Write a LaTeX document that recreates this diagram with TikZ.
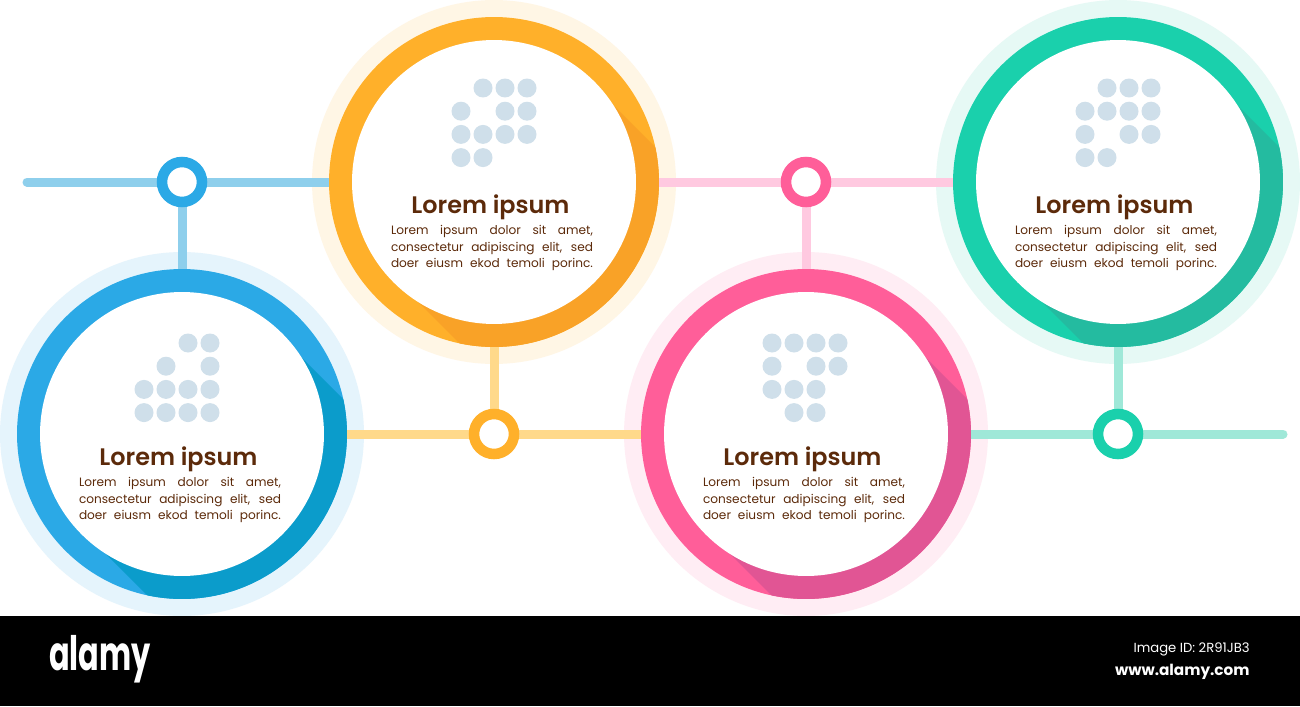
\documentclass[tikz,border=0pt]{standalone}
\usepackage{fontspec}
\setmainfont{Poppins}
\newfontfamily\headfont{Poppins SemiBold}
\newlength{\bodywd}
\setlength{\bodywd}{4.04cm}
\definecolor{bluemain}{HTML}{2BA9E6}
\definecolor{bluedark}{HTML}{0B9CCB}
\definecolor{bluehalo}{HTML}{E5F4FC}
\definecolor{bluelink}{HTML}{8ECFEC}
\definecolor{ambermain}{HTML}{FFB02A}
\definecolor{amberdark}{HTML}{F9A227}
\definecolor{amberhalo}{HTML}{FFF6E5}
\definecolor{amberlink}{HTML}{FFD98A}
\definecolor{rosemain}{HTML}{FF5E99}
\definecolor{rosedark}{HTML}{E15594}
\definecolor{rosehalo}{HTML}{FFEDF4}
\definecolor{roselink}{HTML}{FFC9E0}
\definecolor{tealmain}{HTML}{1AD0AC}
\definecolor{tealdark}{HTML}{24BBA0}
\definecolor{tealhalo}{HTML}{E6F9F5}
\definecolor{teallink}{HTML}{9FE8D8}
\definecolor{dotgrey}{HTML}{CFDFEA}
\definecolor{loremtext}{HTML}{5C2A0A}
\pgfdeclarelayer{halolayer}
\pgfdeclarelayer{linklayer}
\pgfsetlayers{halolayer,linklayer,main}
\tikzset{%
  disc/.style     = {shape=circle, inner sep=0pt, outer sep=0pt},%
  halonode/.style = {disc, minimum size=7.28cm},%
  ringnode/.style = {disc, minimum size=6.6cm},%
  holenode/.style = {disc, minimum size=5.68cm, fill=white},%
  stopnode/.style = {disc, minimum size=.8cm, line width=.21cm, fill=white},%
  link/.style     = {line width=.18cm, line cap=round},%
  title/.style    = {font=\fontsize{13.6}{16}\headfont, text=loremtext},%
  body/.style     = {font=\fontsize{6.9}{9.64}\selectfont, text=loremtext, align=left, inner sep=0pt}%
}
% name, centre x, centre y, first dot x, first dot y, dots as column/row
\newcommand{\stepdisc}[6]{%
  \begin{pgfonlayer}{halolayer}%
    \node[halonode, fill=#1halo] (#1halo) at (#2,#3) {};%
  \end{pgfonlayer}%
  \node[ringnode, fill=#1main] (#1) at (#2,#3) {};%
  \begin{scope}%
    \clip (#1.center) circle [radius=3.3cm];%
    \fill[#1dark] (#2+98,#3-98) -- (#2+298,#3+102) -- (#2+102,#3+298) -- (#2-98,#3+98) -- cycle;%
  \end{scope}%
  \node[holenode] (#1hole) at (#2,#3) {};%
  \foreach \col/\row in {#6}{%
    \fill[dotgrey] (#4+22*\col,#5+23.2*\row) circle [radius=.19cm];}%
  \node[title] (#1title) at (#2-3.5,#3+25) {Lorem ipsum};%
  \node[body] (#1body) at (#2-2,#3+66) {\makebox[\bodywd][s]{Lorem ipsum dolor sit amet,}\\
    \makebox[\bodywd][s]{consectetur adipiscing elit, sed}\\
    \makebox[\bodywd][s]{doer eiusm ekod temoli porinc.}};%
}
\begin{document}
\begin{tikzpicture}[x=.02cm,y=-.02cm]
	\useasboundingbox (0,0) rectangle (1300,706);
	\begin{pgfonlayer}{halolayer}
		\fill[white] (0,0) rectangle (1300,706);
	\end{pgfonlayer}
	\stepdisc{blue}{182}{434}{144}{343}{2/0,3/0,1/1,3/1,0/2,1/2,2/2,3/2,0/3,1/3,2/3,3/3}
	\stepdisc{amber}{494}{182}{461}{88}{1/0,2/0,3/0,0/1,2/1,3/1,0/2,1/2,2/2,3/2,0/3,1/3}
	\stepdisc{rose}{806}{434}{772}{343}{0/0,1/0,2/0,3/0,0/1,2/1,3/1,0/2,1/2,2/2,1/3,2/3}
	\stepdisc{teal}{1118}{182}{1085}{88}{1/0,2/0,3/0,0/1,1/1,2/1,3/1,0/2,2/2,3/2,0/3,1/3}
	\node[stopnode,draw=bluemain] (bluestop) at (182,182) {};
	\node[stopnode,draw=ambermain] (amberstop) at (494,434) {};
	\node[stopnode,draw=rosemain] (rosestop) at (806,182) {};
	\node[stopnode,draw=tealmain] (tealstop) at (1118,434) {};
	\coordinate (linestart) at (27,182);
	\coordinate (lineend) at (1283,434);
	\begin{pgfonlayer}{linklayer}
		\draw[link,bluelink] (linestart) -- (bluestop);
		\draw[link,bluelink] (bluestop) -- (amber);
		\draw[link,bluelink] (bluestop) -- (blue);
		\draw[link,amberlink] (blue) -- (amberstop);
		\draw[link,amberlink] (amberstop) -- (rose);
		\draw[link,amberlink] (amberstop) -- (amber);
		\draw[link,roselink] (amber) -- (rosestop);
		\draw[link,roselink] (rosestop) -- (teal);
		\draw[link,roselink] (rosestop) -- (rose);
		\draw[link,teallink] (rose) -- (tealstop);
		\draw[link,teallink] (tealstop) -- (lineend);
		\draw[link,teallink] (tealstop) -- (teal);
	\end{pgfonlayer}
	% bottom strip
	\fill[black] (0,616) rectangle (1300,706);
	\node[text=white,font=\fontsize{27}{30}\selectfont\bfseries,xscale=.64] (brand) at (100,659) {alamy};
	\node[text=white,font=\fontsize{7.5}{9}\selectfont,anchor=east,inner sep=0pt] (imageid) at (1250,649) {Image ID: 2R91JB3};
	\node[text=white,font=\fontsize{8.7}{10}\selectfont\bfseries,anchor=east,inner sep=0pt] (website) at (1250,672) {www.alamy.com};
\end{tikzpicture}
\end{document}
